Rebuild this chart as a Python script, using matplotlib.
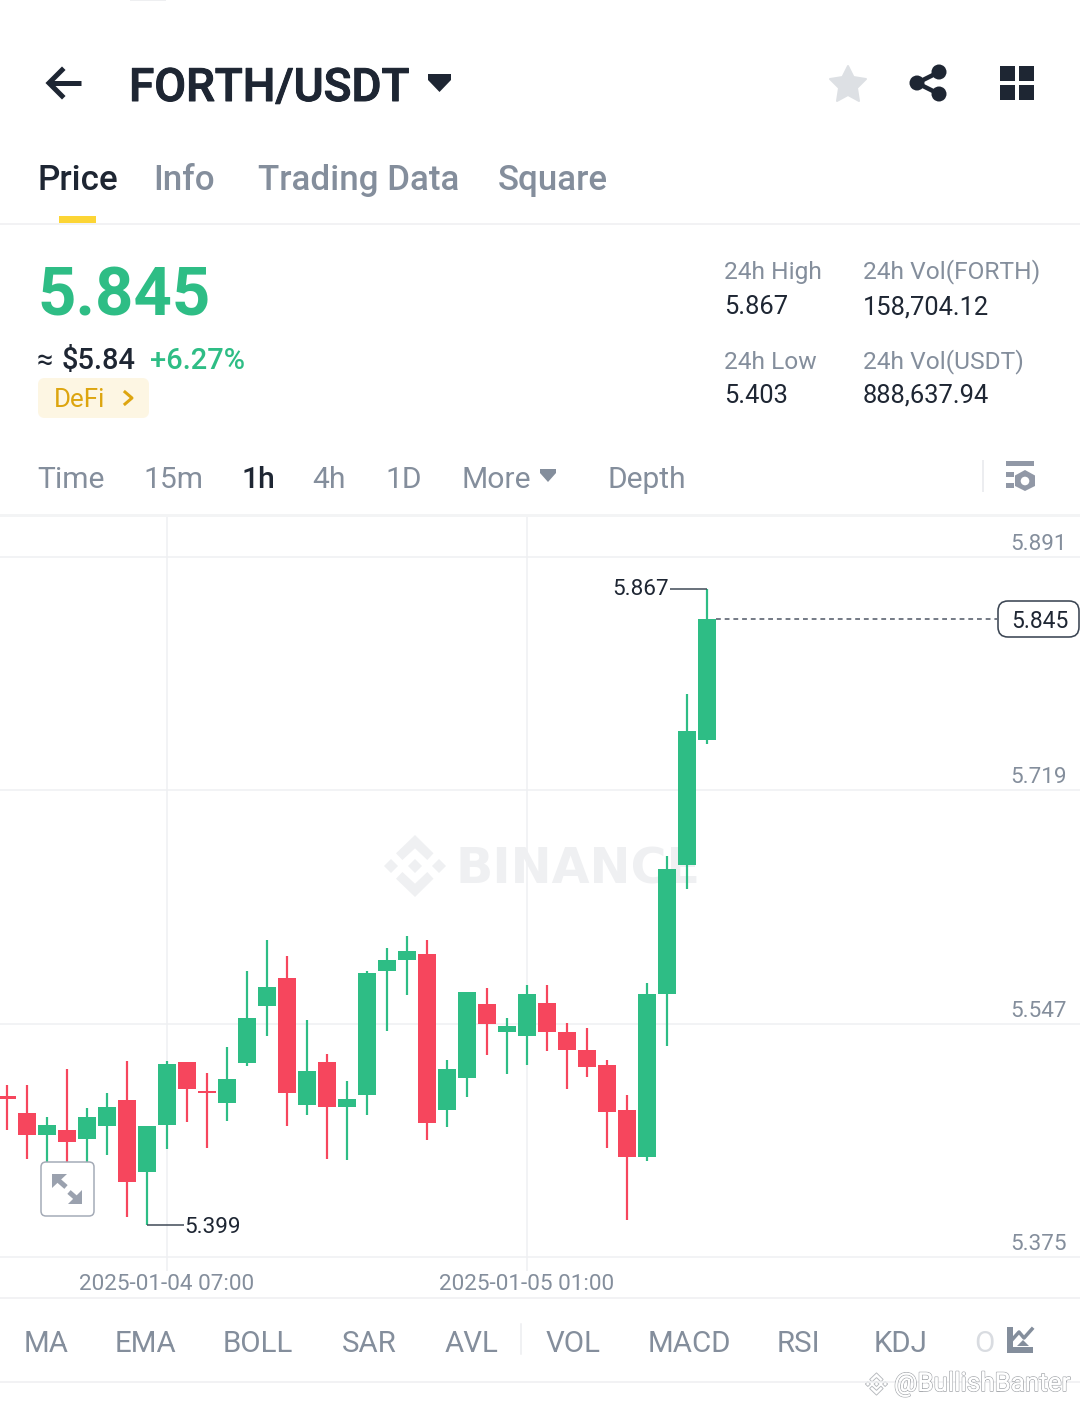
import matplotlib
matplotlib.use("Agg")
import matplotlib.pyplot as plt
from matplotlib.patches import FancyBboxPatch, Polygon, Rectangle, Circle
from matplotlib.transforms import blended_transform_factory
import matplotlib.patheffects as pe

plt.rcParams["font.family"] = ["Roboto", "DejaVu Sans"]

# candles, oldest first
opens = [5.4937, 5.4814, 5.4647, 5.4684, 5.4617, 5.4715, 5.4905, 5.4376, 5.4725, 5.5185, 5.4973, 5.4887,
         5.5178, 5.5600, 5.5804, 5.4868, 5.5185, 5.4858, 5.4946, 5.5860, 5.5939, 5.5985, 5.4836, 5.5067,
         5.5615, 5.5408, 5.5379, 5.5624, 5.5406, 5.5276, 5.5165, 5.4833, 5.4485, 5.5688, 5.6641, 5.7562]
highs = [5.5016, 5.5018, 5.4784, 5.5133, 5.4846, 5.4956, 5.5195, 5.4713, 5.5195, 5.5185, 5.5104, 5.5295,
         5.5856, 5.6086, 5.5966, 5.5494, 5.5244, 5.5045, 5.5856, 5.6025, 5.6116, 5.6086, 5.5202, 5.5705,
         5.5735, 5.5514, 5.5755, 5.5755, 5.5475, 5.5435, 5.5204, 5.4944, 5.5767, 5.6705, 5.7899, 5.8674]
lows = [5.4686, 5.4475, 5.4428, 5.4428, 5.4428, 5.4504, 5.4047, 5.3984, 5.4546, 5.4745, 5.4556, 5.4755,
        5.5158, 5.5379, 5.4715, 5.4797, 5.4475, 5.4465, 5.4797, 5.5418, 5.5679, 5.4615, 5.4706, 5.4927,
        5.5237, 5.5096, 5.5167, 5.5266, 5.4986, 5.5079, 5.4556, 5.4025, 5.4455, 5.5307, 5.6460, 5.7533]
closes = [5.4917, 5.4647, 5.4723, 5.4595, 5.4784, 5.4853, 5.4305, 5.4713, 5.5175, 5.4986, 5.4959, 5.5064,
          5.5514, 5.5738, 5.4956, 5.5123, 5.4858, 5.4914, 5.5845, 5.5937, 5.6005, 5.4738, 5.5133, 5.5705,
          5.5467, 5.5455, 5.5686, 5.5408, 5.5278, 5.5148, 5.4816, 5.4485, 5.5686, 5.6607, 5.7629, 5.8452]

price_ticks = [5.375, 5.547, 5.719, 5.891]
time_tick_index = [8, 26]
time_tick_labels = ["2025-01-04 07:00", "2025-01-05 01:00"]
high_index, high_value = 35, "5.867"
low_index, low_value = 7, "5.399"
last_price = "5.845"

tabs = ["Price", "Info", "Trading Data", "Square"]
intervals = ["Time", "15m", "1h", "4h", "1D", "More", "Depth"]
indicators = ["MA", "EMA", "BOLL", "SAR", "AVL", "VOL", "MACD", "RSI", "KDJ"]

DARK = "#1E2633"
GREY = "#848E9C"
GREEN = "#2EBD85"
RED = "#F6465D"
LINE = "#EEEFF1"

fig = plt.figure(figsize=(10.8, 14.05), dpi=100, facecolor="white")
W, H = 1080, 1405


def px(n):
    return n * 72 / 100


# chart area, candle spacing is 20px and first candle sits at x=7
chart_top, chart_bottom = 516, 1271
ax = fig.add_axes([0, 1 - chart_bottom / H, 1, (chart_bottom - chart_top) / H])
per_px = 0.172 / 233.33
ax.set_xlim(-7.0 / 20, (W - 7.0) / 20)
ax.set_ylim(5.375 - (chart_bottom - 1257) * per_px, 5.375 + (1257 - chart_top) * per_px)
for s in ax.spines.values():
    s.set_visible(False)
ax.set_yticks(price_ticks)
ax.set_xticks(time_tick_index)
ax.set_xticklabels(time_tick_labels, fontsize=px(22.5), color=GREY)
ax.set_yticklabels([])
ax.tick_params(length=0, pad=px(2.5))
ax.set_axisbelow(True)
ax.grid(axis="y", color="#EFF0F2", lw=px(1.5))
ax.grid(axis="x", color="#EFF0F2", lw=px(1.5))

xs = list(range(len(opens)))
colors = [GREEN if c >= o else RED for o, c in zip(opens, closes)]
ax.vlines(xs, lows, highs, colors=colors, lw=px(2.2), zorder=3)
ax.bar(xs, [abs(c - o) for o, c in zip(opens, closes)], bottom=[min(o, c) for o, c in zip(opens, closes)],
       width=0.87, color=colors, zorder=3)

tr = blended_transform_factory(ax.transAxes, ax.transData)
for v in price_ticks:
    ax.annotate("%.3f" % v, (1, v), xycoords=tr, xytext=(-px(13), px(7)), textcoords="offset points",
                ha="right", va="baseline", fontsize=px(22.5), color=GREY)

# high / low markers
ax.hlines(highs[high_index], high_index - 1.87, high_index, color="#3C4654", lw=px(1.5), zorder=4)
ax.annotate(high_value, (high_index - 1.87, highs[high_index]), xytext=(-px(1), -px(6)),
            textcoords="offset points", ha="right", va="baseline", fontsize=px(22.5), color=DARK)
ax.hlines(lows[low_index], low_index, low_index + 1.87, color="#3C4654", lw=px(1.5), zorder=4)
ax.annotate(low_value, (low_index + 1.87, lows[low_index]), xytext=(0, -px(8)),
            textcoords="offset points", ha="left", va="baseline", fontsize=px(22.5), color=DARK)

# last price line
ax.hlines(closes[-1], 35.45, 49.5, color="#4A5361", lw=px(1.5), linestyles=(0, (3.2, 2.6)), zorder=2)

# everything else is drawn in pixel coordinates
ui = fig.add_axes([0, 0, 1, 1], facecolor="none")
ui.set_xlim(0, W)
ui.set_ylim(H, 0)
ui.axis("off")


def label(x, y, s, size, color=DARK, weight="normal", ha="left", **kw):
    return ui.text(x, y, s, fontsize=px(size), color=color, fontweight=weight, ha=ha, va="baseline", **kw)


def binance_logo(target, cx, cy, k, **style):
    top = [(0, -31), (18.5, -12.7), (12.3, -6), (0, -17.7), (-12.6, -6), (-19, -12.7)]
    bottom = [(x, -y) for x, y in top]
    shapes = [top, bottom]
    for dx in (-24, 0, 24):
        shapes.append([(dx, -7), (dx + 7, 0), (dx, 7), (dx - 7, 0)])
    for pts in shapes:
        target.add_patch(Polygon([(cx + x * k, cy + y * k) for x, y in pts], closed=True,
                                 transform=ui.transData, **style))


# watermark goes under the candles
binance_logo(ax, 415, 866, 1.0, facecolor="#EFF0F2", edgecolor="none", zorder=1)
ax.text(456, 884, "BINANCE", transform=ui.transData, fontsize=px(49), fontweight="bold", color="#EFF0F2",
        family="DejaVu Sans", va="baseline", ha="left", zorder=1)

# separators
ui.add_patch(Rectangle((130, 0), 36, 1, color="#EEEFF1", lw=0))
ui.plot([0, W], [223.5, 223.5], color=LINE, lw=px(1.5))
ui.plot([0, W], [515, 515], color="#F3F4F5", lw=px(3))
ui.plot([0, W], [1297.5, 1297.5], color=LINE, lw=px(1.5))
ui.plot([0, W], [1381.5, 1381.5], color=LINE, lw=px(1.5))

# header
ui.plot([81, 49], [83, 83], color=DARK, lw=px(5), solid_capstyle="butt")
ui.plot([62, 49, 62], [70, 83, 96], color=DARK, lw=px(5), solid_joinstyle="miter")
label(129, 101, "FORTH/USDT", 46, weight="medium",
      path_effects=[pe.withStroke(linewidth=px(1.0), foreground=DARK)])
ui.add_patch(Polygon([(428, 74), (451, 74), (451, 80), (439.5, 92), (428, 80)], color=DARK, lw=0))

star = [(848, 66), (853.5, 77), (866, 79), (857, 88), (859, 101), (848, 95), (837, 101), (839, 88), (830, 79),
        (842.5, 77)]
ui.add_patch(Polygon(star, facecolor="#DDE0E4", edgecolor="#DDE0E4", lw=px(2), joinstyle="round"))
ui.plot([939, 917, 939], [72, 83, 94], color=DARK, lw=px(4.5))
for c in [(939, 72), (917, 83), (939, 94)]:
    ui.add_patch(Circle(c, 7.5, color=DARK, lw=0))
for x0 in (1000, 1019):
    for y0 in (66, 85):
        ui.add_patch(Rectangle((x0, y0), 15, 15, color=DARK, lw=0))

# tabs
for s, x, c in zip(tabs, [37.5, 153.5, 258, 497.5], [DARK, GREY, GREY, GREY]):
    label(x, 190, s, 35, color=c, weight="medium")
ui.add_patch(Rectangle((59, 216), 37, 7, color="#FCD535", lw=0))

# price block
label(37, 316, "5.845", 67, color=GREEN, weight="bold")
label(37, 369, "≈", 29)
label(62, 369, "$5.84", 29, weight="medium")
label(150, 369, "+6.27%", 29, color=GREEN, weight="medium")
ui.add_patch(FancyBboxPatch((44, 384), 99, 28, boxstyle="round,pad=0,rounding_size=0", facecolor="#FDF6E3",
                            edgecolor="#FDF6E3", lw=px(12), joinstyle="round"))
label(54, 407, "DeFi", 26, color="#DDA50F")
ui.plot([125, 132, 125], [392, 398, 404], color="#DDA50F", lw=px(3))

# 24h stats
label(724, 279, "24h High", 24.5, color=GREY)
label(724, 314, "5.867", 25.5)
label(724, 369, "24h Low", 24.5, color=GREY)
label(724, 403, "5.403", 25.5)
label(863, 278, "24h Vol(FORTH)", 24.5, color=GREY)
label(863, 314, "158,704.12", 25.5)
label(863, 368, "24h Vol(USDT)", 24.5, color=GREY)
label(863, 403, "888,637.94", 25.5)

# interval row
for s, x in zip(intervals, [37, 143, 241, 312.5, 385, 461, 607]):
    if s == "1h":
        label(x, 488, s, 30, weight="medium")
    else:
        label(x, 488, s, 30, color=GREY)
ui.add_patch(Polygon([(540, 469), (556, 469), (556, 473), (548, 482), (540, 473)], color=GREY, lw=0))
ui.plot([983, 983], [461, 491], color="#ECEDF0", lw=px(2))
ui.add_patch(Rectangle((1006, 461), 28, 5, color="#9198A6", lw=0))
ui.add_patch(Rectangle((1006, 472), 8, 5, color="#9198A6", lw=0))
ui.add_patch(Rectangle((1006, 483), 8, 5, color="#9198A6", lw=0))
hexagon = [(1025, 470), (1035, 475.5), (1035, 486), (1025, 491), (1015, 486), (1015, 475.5)]
ui.add_patch(Polygon(hexagon, color="#9198A6", lw=0))
ui.add_patch(Circle((1025, 481), 4.3, color="white", lw=0))

# last price box
ui.add_patch(FancyBboxPatch((1003, 606), 71, 26, boxstyle="round,pad=5,rounding_size=10", facecolor="white",
                            edgecolor="#3C4654", lw=px(1.6), zorder=4))
label(1039.5, 628, last_price, 22.8, ha="center", zorder=5)

# expand button
ui.add_patch(FancyBboxPatch((44, 1165), 47, 48, boxstyle="round,pad=3,rounding_size=5", facecolor="white",
                            edgecolor="#A3AAB6", lw=px(1.5)))
ui.add_patch(Polygon([(52, 1174), (52, 1188), (67, 1174)], color="#9AA1AE", lw=0))
ui.add_patch(Polygon([(82, 1204), (82, 1190), (68, 1204)], color="#9AA1AE", lw=0))
ui.plot([58, 66], [1180, 1187], color="#9AA1AE", lw=px(5), solid_capstyle="butt")
ui.plot([69, 77], [1192, 1199], color="#9AA1AE", lw=px(5), solid_capstyle="butt")

# indicator row
for s, x in zip(indicators, [23.5, 114.5, 222.5, 341.5, 445, 545.5, 647.5, 776.5, 873.5]):
    label(x, 1352, s, 29.5, color=GREY)
ui.plot([521, 521], [1324, 1354], color="#ECEDF0", lw=px(1.5))
label(974, 1352, "O", 29.5, color="#D9DCE1")
ui.add_patch(Rectangle((1007, 1327), 6, 26, color=GREY, lw=0))
ui.add_patch(Rectangle((1007, 1347), 26, 6, color=GREY, lw=0))
ui.plot([1011, 1019, 1024, 1032], [1341, 1332, 1338, 1329], color=GREY, lw=px(3.5))
ui.add_patch(Polygon([(1017, 1346), (1023, 1340), (1029, 1346)], color=GREY, lw=0))

# repost watermark
binance_logo(ui, 876.5, 1384, 0.36, facecolor="white", edgecolor="#B5B8BC", lw=px(0.9))
label(894, 1391, "@BullishBanter", 26, color="white",
      path_effects=[pe.withStroke(linewidth=px(1.6), foreground="#A9ACB0"), pe.Normal()])

fig.savefig("out.png", dpi=100)
